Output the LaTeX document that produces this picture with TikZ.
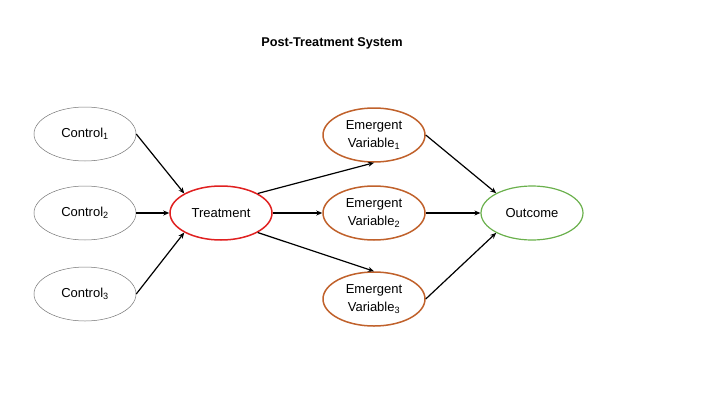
\documentclass[tikz,border=0pt]{standalone}
\usepackage{fontspec}
\setmainfont{Liberation Sans}
\usetikzlibrary{shapes.geometric,arrows.meta}
\definecolor{treatred}{HTML}{E02020}
\definecolor{emerg}{HTML}{C0612B}
\definecolor{outgreen}{HTML}{6AB04C}
\tikzset{
  var/.style={ellipse, draw, line width=#1, minimum width=102pt, minimum height=54pt, inner sep=0pt, font=\fontsize{13}{18}\selectfont, align=center},
  ctrl/.style={var=0.5pt, draw=black!55},
  treat/.style={var=1.5pt, draw=treatred},
  emv/.style={var=1.5pt, draw=emerg},
  outc/.style={var=1.2pt, draw=outgreen},
  arr/.style={-{Stealth[length=6pt,width=5pt]}, line width=1.2pt, black},
}
\begin{document}
\begin{tikzpicture}[x=1pt,y=-1pt]
\useasboundingbox (0,0) rectangle (720,405);
\node[font=\bfseries\fontsize{12.7}{14}\selectfont] (title) at (332,43) {Post-Treatment System};
\node[ctrl] (c1) at (85,134) {Control\textsubscript{1}};
\node[ctrl] (c2) at (85,213) {Control\textsubscript{2}};
\node[ctrl] (c3) at (85,294) {Control\textsubscript{3}};
\node[treat] (t) at (221,213) {Treatment};
\node[emv] (e1) at (374,135) {Emergent\\Variable\textsubscript{1}};
\node[emv] (e2) at (374,213) {Emergent\\Variable\textsubscript{2}};
\node[emv] (e3) at (374,299) {Emergent\\Variable\textsubscript{3}};
\node[outc] (o) at (532,213) {Outcome};
\draw[arr] (c1.east) -- (t.152);
\draw[arr] (c2.east) -- (t.west);
\draw[arr] (c3.east) -- (t.208);
\draw[arr] (t.28) -- (e1.south);
\draw[arr] (t.east) -- (e2.west);
\draw[arr] (t.332) -- (e3.north);
\draw[arr] (e1.east) -- (o.151);
\draw[arr] (e2.east) -- (o.west);
\draw[arr] (e3.east) -- (o.209);
\end{tikzpicture}
\end{document}
